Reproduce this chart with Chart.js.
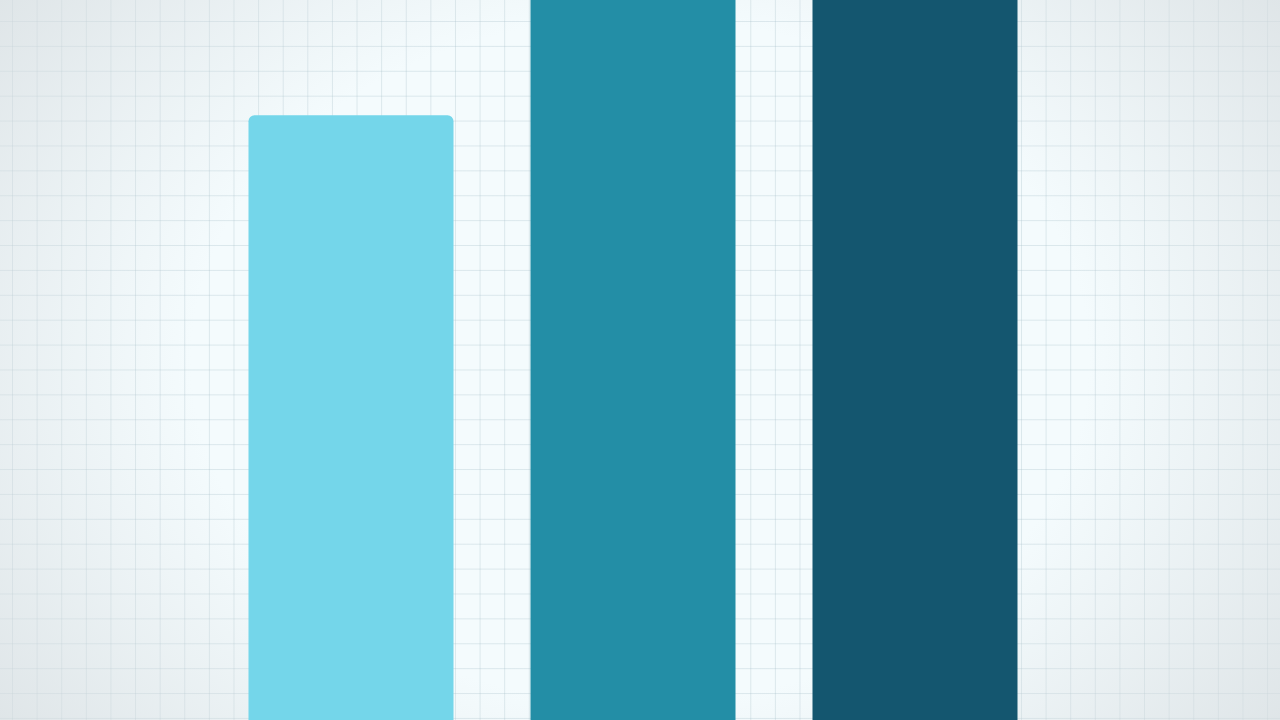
<!DOCTYPE html>
<html>
<head>
<meta charset="utf-8">
<script src="https://cdn.jsdelivr.net/npm/chart.js@4/dist/chart.umd.min.js"></script>
<style>
  html, body { margin: 0; padding: 0; width: 1280px; height: 720px; overflow: hidden; }
  body {
    background-color: #f4fbfd;
    background-image:
      radial-gradient(ellipse 70% 95% at 50% 50%, rgba(244,251,253,0) 50%, rgba(214,220,223,.9) 100%),
      linear-gradient(to right, rgba(165,190,200,.32) 1px, transparent 1px),
      linear-gradient(to bottom, rgba(165,190,200,.32) 1px, transparent 1px);
    background-size: 100% 100%, 24.62px 24.9px, 24.62px 24.9px;
    background-position: 0 0, 12px 21px, 12px 21px;
  }
  #wrap { position: absolute; left: 0; top: 0; width: 1280px; height: 720px; }
</style>
</head>
<body>
<div id="wrap"><canvas id="chart"></canvas></div>
<script>
  /* ── Data ──────────────────────────────────────────────── */
  const categories = ['A', 'B', 'C'];
  const values     = [84, 112, 115];   // B and C run off the top of the frame
  const barColors  = ['#74d6ea', '#238ea6', '#14566f'];
  const yMin = 0, yMax = 100;

  new Chart(document.getElementById('chart'), {
    type: 'bar',
    data: {
      labels: categories,
      datasets: [{
        data: values,
        backgroundColor: barColors,
        borderWidth: 0,
        borderRadius: { topLeft: 6, topRight: 6 },
        borderSkipped: 'bottom',
        categoryPercentage: 1,
        barPercentage: 0.727,
      }]
    },
    options: {
      responsive: true,
      maintainAspectRatio: false,
      animation: false,
      layout: { padding: { left: 210, right: 224, top: 0, bottom: 0 } },
      plugins: { legend: { display: false }, tooltip: { enabled: false } },
      scales: {
        x: { display: false, grid: { display: false } },
        y: { display: false, min: yMin, max: yMax, grid: { display: false } }
      }
    }
  });
</script>
</body>
</html>
